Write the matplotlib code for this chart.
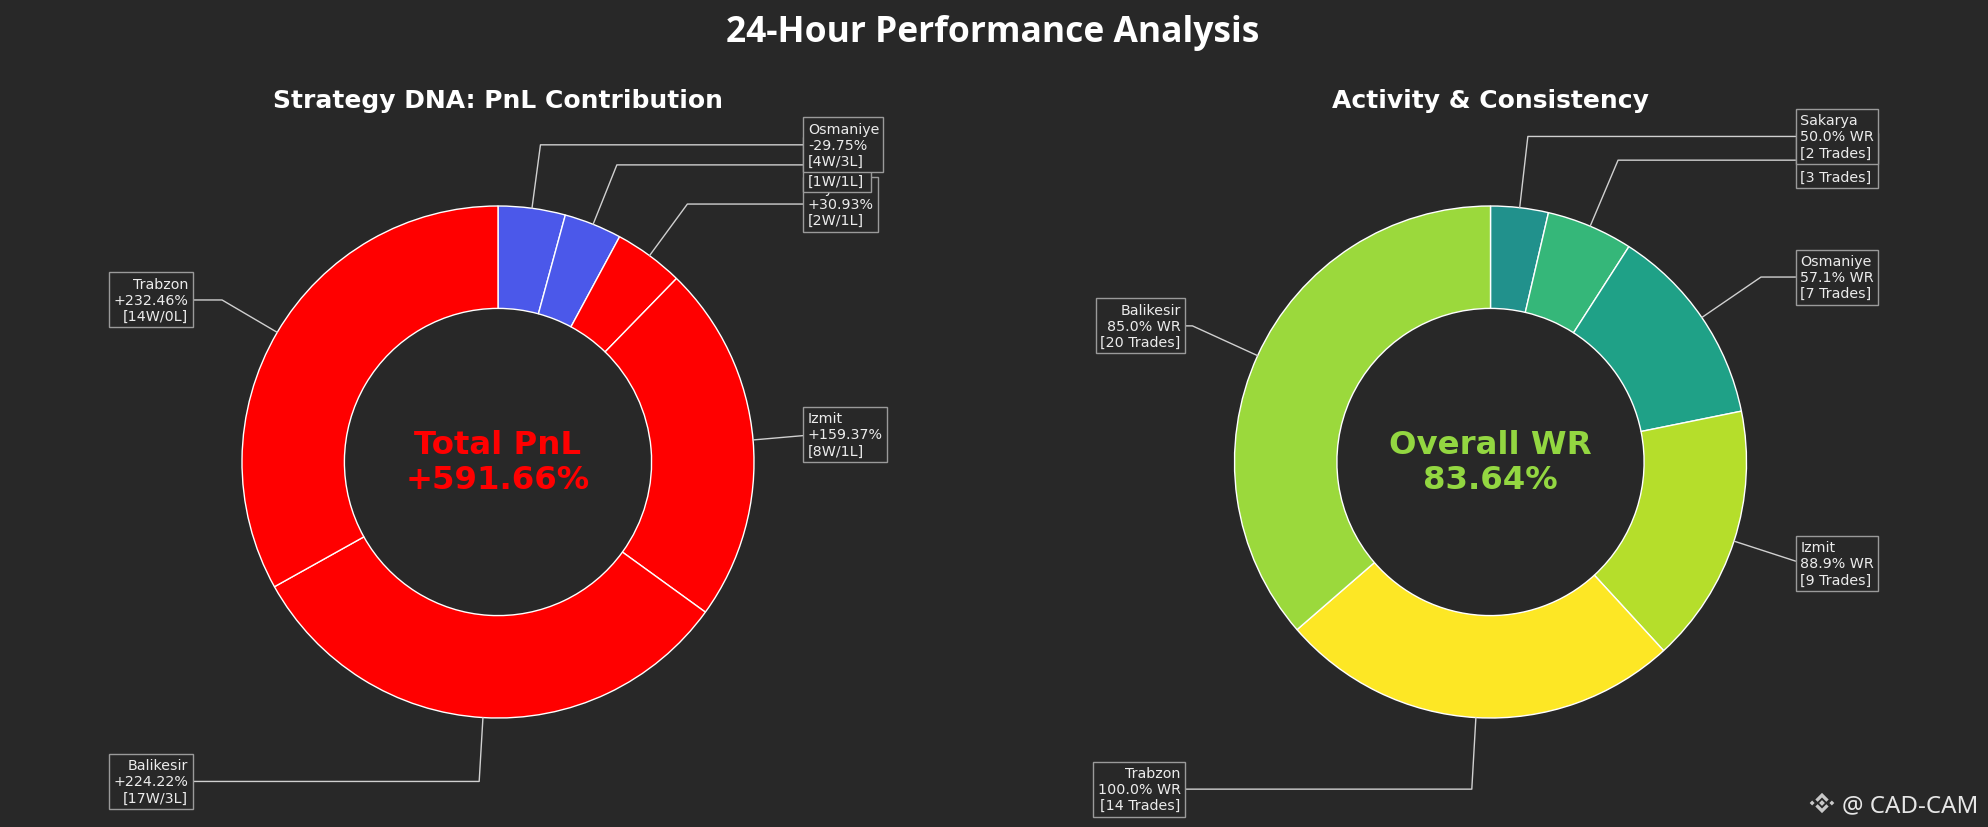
import numpy as np
import matplotlib
matplotlib.use("Agg")
import matplotlib.pyplot as plt
from matplotlib.patches import Polygon
from matplotlib import cm
from matplotlib import font_manager as fm

# ---------------- data ----------------
pnl_cities = ["Osmaniye", "Sakarya", "Kayseri", "Izmit", "Balikesir", "Trabzon"]
pnl_values = [-29.75, -25.57, 30.93, 159.37, 224.22, 232.46]
pnl_wins = [4, 1, 2, 8, 17, 14]
pnl_losses = [3, 1, 1, 1, 3, 0]

wr_cities = ["Sakarya", "Kayseri", "Osmaniye", "Izmit", "Trabzon", "Balikesir"]
wr_values = [50.0, 66.7, 57.1, 88.9, 100.0, 85.0]
wr_trades = [2, 3, 7, 9, 14, 20]
wr_wins = [1, 2, 4, 8, 14, 17]

total_pnl = sum(pnl_values)
overall_wr = 100.0 * sum(wr_wins) / sum(wr_trades)

# ---------------- style ----------------
BG = "#282828"
POS = "#ff0000"
NEG = "#4b58ea"
TXT = "#ececec"


def pick_bold_family(cands):
    for fam in cands:
        try:
            path = fm.findfont(fm.FontProperties(family=fam, weight="bold", stretch="normal"),
                               fallback_to_default=False)
        except Exception:
            continue
        name = path.lower()
        if "condensed" in name or "narrow" in name:
            continue
        if fam.lower().replace(" ", "") in name.replace(" ", "").replace("-", "").replace("_", "") and \
                ("bold" in name or "[wght]" in name or "variable" in name):
            return fam
    return "DejaVu Sans"


TITLE_FAM = pick_bold_family(["Open Sans", "Noto Sans", "Lato", "Roboto", "Inter"])

W, H = 1988, 828
R = 256
fig = plt.figure(figsize=(W / 100, H / 100), dpi=100, facecolor=BG)


def make_ax(cx, cy):
    half = 1.25 * R
    ax = fig.add_axes([(cx - half) / W, (H - cy - half) / H, 2 * half / W, 2 * half / H])
    ax.set_facecolor(BG)
    return ax


def annotate(ax, wedges, labels, yfac):
    n = len(labels)
    for i, (p, lab) in enumerate(zip(wedges, labels)):
        ang = (p.theta2 - p.theta1) / 2.0 + p.theta1
        x = np.cos(np.deg2rad(ang))
        y = np.sin(np.deg2rad(ang))
        sx = 1 if x >= 0 else -1
        ha = "left" if sx > 0 else "right"
        ax.annotate(
            lab, xy=(x, y), xytext=(1.21 * sx, yfac * y),
            ha=ha, va="center", fontsize=10.3, color=TXT,
            bbox=dict(boxstyle="square,pad=0.3", fc=BG, ec="#9a9a9a", lw=1),
            arrowprops=dict(arrowstyle="-", color="#d0d0d0", lw=1,
                            connectionstyle=f"angle,angleA=0,angleB={ang}",
                            shrinkA=0, shrinkB=0),
            zorder=10 + n - i, annotation_clip=False,
        )


# ---------------- left donut ----------------
ax1 = make_ax(498, 463)
cols1 = [POS if v >= 0 else NEG for v in pnl_values]
w1, _ = ax1.pie(np.abs(pnl_values), colors=cols1, startangle=90, counterclock=False,
                wedgeprops=dict(width=0.4, edgecolor="white", linewidth=1))
ax1.set_xlim(-1.25, 1.25)
ax1.set_ylim(-1.25, 1.25)
labels1 = [f"{c}\n{v:+.2f}%\n[{w}W/{l}L]" for c, v, w, l in
           zip(pnl_cities, pnl_values, pnl_wins, pnl_losses)]
annotate(ax1, w1, labels1, 1.25)
ax1.text(0, 0, f"Total PnL\n{total_pnl:+.2f}%", ha="center", va="center",
         fontsize=23.3, fontweight="bold", color=POS)

# ---------------- right donut ----------------
ax2 = make_ax(1490.5, 463)
cols2 = [cm.viridis(v / 100.0) for v in wr_values]
w2, _ = ax2.pie(wr_trades, colors=cols2, startangle=90, counterclock=False,
                wedgeprops=dict(width=0.4, edgecolor="white", linewidth=1))
ax2.set_xlim(-1.25, 1.25)
ax2.set_ylim(-1.25, 1.25)
labels2 = [f"{c}\n{v:.1f}% WR\n[{t} Trades]" for c, v, t in
           zip(wr_cities, wr_values, wr_trades)]
annotate(ax2, w2, labels2, 1.28)
ax2.text(0, 0, f"Overall WR\n{overall_wr:.2f}%", ha="center", va="center",
         fontsize=23.3, fontweight="bold", color=cm.viridis(overall_wr / 100.0))

# ---------------- titles ----------------
fig.text(993 / W, 1 - 42 / H, "24-Hour Performance Analysis", ha="center", va="baseline",
         fontsize=25.5, fontweight="bold", fontstretch="normal", color="white",
         family=[TITLE_FAM, "DejaVu Sans"])
fig.text(498 / W, 1 - 108 / H, "Strategy DNA: PnL Contribution", ha="center", va="baseline",
         fontsize=18, fontweight="bold", color="white")
fig.text(1490.5 / W, 1 - 108 / H, "Activity & Consistency", ha="center", va="baseline",
         fontsize=18, fontweight="bold", color="white")

# ---------------- watermark ----------------
fig.text(1978 / W, 16 / H, "@ CAD-CAM", ha="right", va="baseline", fontsize=17.3,
         color="#e6e6e6", family=["Noto Sans", "DejaVu Sans"])
lx, ly, s = 1822, 24, 14.5
def shp(pts):
    return [((lx + px * s) / W, (ly + py * s) / H) for px, py in pts]
def diamond(cx, cy, h):
    return [(cx - h, cy), (cx, cy + h), (cx + h, cy), (cx, cy - h)]
logo_parts = [
    diamond(0, 0, 0.2), diamond(-0.68, 0, 0.17), diamond(0.68, 0, 0.17),
    [(-0.46, 0.24), (0, 0.7), (0.46, 0.24), (0.3, 0.08), (0, 0.38), (-0.3, 0.08)],
    [(-0.46, -0.24), (0, -0.7), (0.46, -0.24), (0.3, -0.08), (0, -0.38), (-0.3, -0.08)],
]
for part in logo_parts:
    fig.patches.append(Polygon(shp(part), closed=True, transform=fig.transFigure,
                               fc="#c8c8c8", ec="none", figure=fig))

fig.savefig("out.png", dpi=100, facecolor=BG)
